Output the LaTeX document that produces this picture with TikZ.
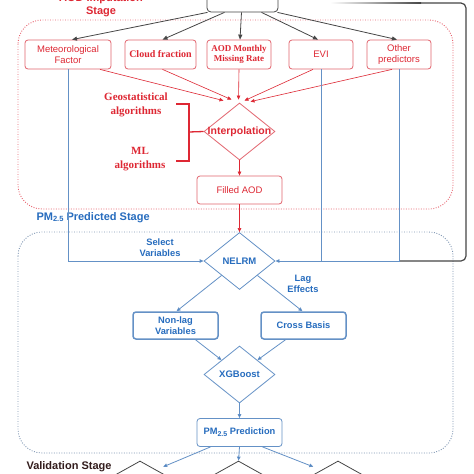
\documentclass[tikz,border=0pt]{standalone}
\usepackage{fontspec}
\setmainfont{Liberation Sans}
\newfontfamily\serifb{Liberation Serif}
\usetikzlibrary{shapes.geometric,arrows.meta,calc}
\definecolor{rd}{RGB}{222,40,52}
\definecolor{rdl}{RGB}{226,100,110}
\definecolor{rdot}{RGB}{232,100,112}
\definecolor{bl}{RGB}{38,108,190}
\definecolor{bll}{RGB}{100,145,198}
\definecolor{bdot}{RGB}{125,148,178}
\definecolor{gr}{RGB}{70,70,70}
\definecolor{vs}{RGB}{50,28,28}
\begin{document}
\begin{tikzpicture}[x=1pt,y=-1pt,
  rbox/.style={draw=rdl, rounded corners=3pt, line width=0.8pt, text=rd, align=center, inner sep=1pt, font=\fontsize{9.5}{10.5}\selectfont},
  rsbox/.style={rbox, font=\serifb\bfseries\fontsize{9}{10.5}\selectfont},
  rdiam/.style={diamond, draw=rdl, line width=0.8pt, minimum width=71pt, minimum height=57pt, inner sep=0pt, text=rd, font=\bfseries\fontsize{10.5}{12}\selectfont},
  bdiam/.style={diamond, draw=bll, line width=0.8pt, minimum width=71pt, minimum height=57pt, inner sep=0pt, text=bl, font=\bfseries\fontsize{9.5}{11}\selectfont},
  bbox/.style={draw=bll, rounded corners=3pt, line width=0.8pt, text=bl, align=center, inner sep=1pt, font=\bfseries\fontsize{9.3}{11}\selectfont},
  bboxt/.style={bbox, line width=1.5pt},
  rarr/.style={draw=rd, line width=0.6pt, -{Triangle[length=4pt,width=3.5pt]}},
  barr/.style={draw=bll, line width=0.8pt, -{Triangle[length=4pt,width=3.5pt,fill=bl]}},
  bline/.style={draw=bll, line width=0.8pt},
  karr/.style={draw=gr, line width=0.8pt, -{Triangle[length=5pt,width=4pt]}},
  blab/.style={text=bl, align=center, font=\bfseries\fontsize{9.3}{11}\selectfont},
  rslab/.style={text=rd, align=center, font=\serifb\bfseries\fontsize{11}{14}\selectfont},
  vdiam/.style={diamond, draw=gr, line width=0.8pt, minimum width=50pt, minimum height=28pt, inner sep=0pt}
]
\clip (0,0) rectangle (474,474);
\fill[white] (0,0) rectangle (474,474);

% stage frames
\draw[rdot, line width=0.9pt, dash pattern=on 0.9pt off 1.6pt, rounded corners=24pt] (18,20) rectangle (453,209);
\draw[bdot, line width=0.9pt, dash pattern=on 0.9pt off 1.6pt, rounded corners=24pt] (18,232) rectangle (453,453);

% stage titles
\node[text=rd, align=center, font=\bfseries\fontsize{11}{13}\selectfont] (t1) at (101,5.5) {AOD Imputation\\Stage};
\node[text=bl, anchor=west, font=\bfseries\fontsize{11}{13}\selectfont] (t2) at (33,218) {PM\raisebox{-0.5pt}{\fontsize{7.5}{8}\selectfont 2.5} Predicted Stage};
\node[text=vs, font=\bfseries\fontsize{11}{13}\selectfont] (t3) at (69,467) {Validation Stage};

% source box
\node[draw=gr, rounded corners=4pt, line width=0.8pt, minimum width=71pt, minimum height=30pt] (src) at (242.5,-3) {};

% predictor boxes
\node[rbox, minimum width=86pt, minimum height=29pt] (met) at (68,54.5) {Meteorological\\Factor};
\node[rsbox, minimum width=71pt, minimum height=29pt, font=\serifb\bfseries\fontsize{10}{11}\selectfont] (cld) at (160.5,54.5) {Cloud fraction};
\node[rsbox, minimum width=64pt, minimum height=29pt] (aod) at (239,54.5) {AOD Monthly\\Missing Rate};
\node[rbox, minimum width=64pt, minimum height=29pt] (evi) at (321,54.5) {EVI};
\node[rbox, minimum width=64pt, minimum height=29pt] (oth) at (399,54.5) {Other\\predictors};

% black arrows from source
\draw[karr] ($(src.south)+(-35,0)$) -- ($(met.north)+(4,0)$);
\draw[karr] ($(src.south)+(-18,0)$) -- ($(cld.north)+(2,0)$);
\draw[karr] ($(src.south)+(-1,0)$) -- ($(aod.north)+(1,0)$);
\draw[karr] ($(src.south)+(19,0)$) -- ($(evi.north)+(-3,0)$);
\draw[karr] ($(src.south)+(35,0)$) -- ($(oth.north)+(-2,0)$);

% right side gray connector
\coordinate (g1) at (420,3);
\coordinate (g2) at (466,3);
\coordinate (g3) at (466,261);
\coordinate (jn) at (399,261);
\shade[left color=white, right color=gr] (330,2.3) rectangle (421,3.7);
\draw[gr, line width=1.2pt, rounded corners=5pt] (g1) -- (g2) -- (g3) -- (jn);

% interpolation
\node[rdiam] (interp) at (239.5,131.5) {\makebox[0pt]{Interpolation}};
\draw[rarr] ($(met.south)+(32,0)$) -- ($(interp.north)+(-16,-2)$);
\draw[rarr] ($(cld.south)+(2,0)$) -- ($(interp.north)+(-8,-3)$);
\draw[rarr] (aod.south) -- ($(interp.north)+(-1,-3)$);
\draw[rarr] ($(evi.south)+(-8,0)$) -- ($(interp.north)+(5,-2)$);
\draw[rarr] ($(oth.south)+(-7,0)$) -- ($(interp.north)+(11,-1)$);

\node[rslab] (geo) at (136,105) {Geostatistical\\algorithms};
\node[rslab] (ml) at (140,159) {ML\\algorithms};
\coordinate (bt) at (176,104);
\coordinate (bb) at (176,161);
\coordinate (bm) at (189,132);
\draw[rd, line width=1.3pt] (bt) -| (189,161) -- (bb);
\draw[rd, line width=1.3pt] (bm) -- (interp.west);

\node[rbox, minimum width=85pt, minimum height=28pt] (fill) at (239.5,190) {Filled AOD};
\draw[rarr] (interp.south) -- (fill.north);

% NELRM
\node[bdiam] (nelrm) at (239.5,261) {\makebox[0pt]{NELRM}};
\draw[rarr] (fill.south) -- (nelrm.north);
\draw[barr] (met.south) |- (nelrm.west);
\draw[bline] (evi.south) -- (evi.south |- jn);
\draw[barr] (oth.south) |- (nelrm.east);
\node[blab] (selv) at (160,247.5) {Select\\Variables};
\node[blab] (lage) at (303,283.5) {Lag\\Effects};

\node[bboxt, minimum width=85pt, minimum height=27pt] (nonlag) at (175.5,325.5) {Non-lag\\Variables};
\node[bboxt, minimum width=85pt, minimum height=27pt] (cross) at (303.5,325.5) {Cross Basis};
\draw[barr] (nelrm.south west) -- ($(nonlag.north)+(1,0)$);
\draw[barr] (nelrm.south east) -- ($(cross.north)+(-1,0)$);

\node[bdiam] (xgb) at (239.5,374.5) {\makebox[0pt]{XGBoost}};
\draw[barr] ($(nonlag.south)+(20,0)$) -- (xgb.north west);
\draw[barr] ($(cross.south)+(-18,0)$) -- (xgb.north east);

\node[bbox, minimum width=85pt, minimum height=28pt] (pm) at (239.5,432.5) {PM\raisebox{-2pt}{\fontsize{7}{8}\selectfont 2.5} Prediction};
\draw[barr] (xgb.south) -- (pm.north);

% validation diamonds
\node[vdiam] (v1) at (140,475) {};
\node[vdiam] (v2) at (238.5,475) {};
\node[vdiam] (v3) at (338,475) {};
\draw[barr] ($(pm.south)+(-29,0)$) -- ($(v1.north east)+(10.5,-1)$);
\draw[barr] (pm.south) -- (v2.north);
\draw[barr] ($(pm.south)+(23,0)$) -- ($(v3.north west)+(-12,-1)$);
\end{tikzpicture}
\end{document}
